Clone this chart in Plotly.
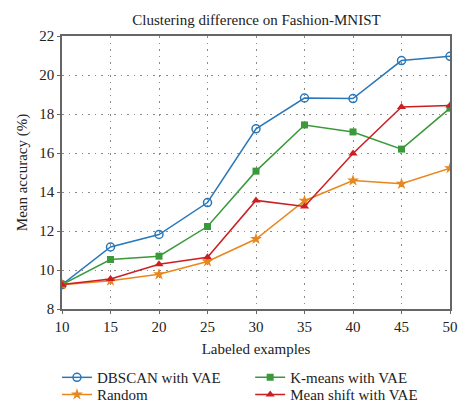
import plotly.graph_objects as go

# labeled examples on the x axis
labeled = [10, 15, 20, 25, 30, 35, 40, 45, 50]

# mean accuracy (%) per method
dbscan_vae = [9.25, 11.18, 11.82, 13.46, 17.24, 18.82, 18.79, 20.74, 20.96]
kmeans_vae = [9.25, 10.54, 10.71, 12.23, 15.07, 17.44, 17.08, 16.2, 18.3]
random_sel = [9.25, 9.45, 9.78, 10.44, 11.59, 13.55, 14.59, 14.42, 15.22]
meanshift_vae = [9.25, 9.54, 10.29, 10.65, 13.57, 13.26, 15.97, 18.36, 18.43]

font = "Liberation Serif"

fig = go.Figure()
fig.add_trace(go.Scatter(x=labeled, y=dbscan_vae, name='DBSCAN with VAE', mode='lines+markers',
                         line=dict(color='#2a77b8', width=1.5), legend='legend',
                         marker=dict(symbol='circle-open', size=8, color='#2a77b8', line=dict(width=1.5))))
fig.add_trace(go.Scatter(x=labeled, y=kmeans_vae, name='K-means with VAE', mode='lines+markers',
                         line=dict(color='#3a9a3a', width=1.5), legend='legend2',
                         marker=dict(symbol='square', size=7, color='#3a9a3a')))
fig.add_trace(go.Scatter(x=labeled, y=random_sel, name='Random', mode='lines+markers',
                         line=dict(color='#e8871e', width=1.5), legend='legend3',
                         marker=dict(symbol='star', size=9, color='#e8871e')))
fig.add_trace(go.Scatter(x=labeled, y=meanshift_vae, name='Mean shift with VAE', mode='lines+markers',
                         line=dict(color='#cc1f22', width=1.5), legend='legend4',
                         marker=dict(symbol='triangle-up', size=8, color='#cc1f22')))

axis_style = dict(showline=True, linecolor='#666666', linewidth=1.5, mirror=True,
                  ticks='outside', ticklen=3, tickcolor='#666666', automargin=False,
                  showgrid=True, gridcolor='#8a8a8a', griddash='1.5px,5px', gridwidth=1.2,
                  zeroline=False, tickfont=dict(family=font, size=15, color='#222222'))

# one legend per entry so the 2x2 grid below the plot can be placed exactly
legend_style = dict(orientation='v', xanchor='left', yref='container', yanchor='top',
                    font=dict(family=font, size=15, color='#222222'),
                    itemwidth=30, bgcolor='rgba(0,0,0,0)')

fig.update_layout(
    width=474, height=416,
    margin=dict(l=62, r=24, t=36, b=107, autoexpand=False),
    paper_bgcolor='white', plot_bgcolor='white',
    font=dict(family=font, color='#222222'),
    title=dict(text='Clustering difference on Fashion-MNIST', x=0.541, xanchor='center',
               y=0.952, yanchor='middle', font=dict(family=font, size=15)),
    xaxis=dict(range=[10, 50], tickvals=labeled,
               title=dict(text='Labeled examples', font=dict(family=font, size=15), standoff=10), **axis_style),
    yaxis=dict(range=[8, 22], dtick=2,
               title=dict(text='Mean accuracy (%)', font=dict(family=font, size=15), standoff=8), **axis_style),
    legend=dict(x=-0.013, y=0.132, **legend_style),
    legend2=dict(x=0.485, y=0.132, **legend_style),
    legend3=dict(x=-0.013, y=0.091, **legend_style),
    legend4=dict(x=0.485, y=0.091, **legend_style),
    showlegend=True,
)

# drop the default 8px page margin so the figure fills the window
fig.write_html("out.html", config={'displayModeBar': False},
               post_script="document.body.style.margin='0';")
